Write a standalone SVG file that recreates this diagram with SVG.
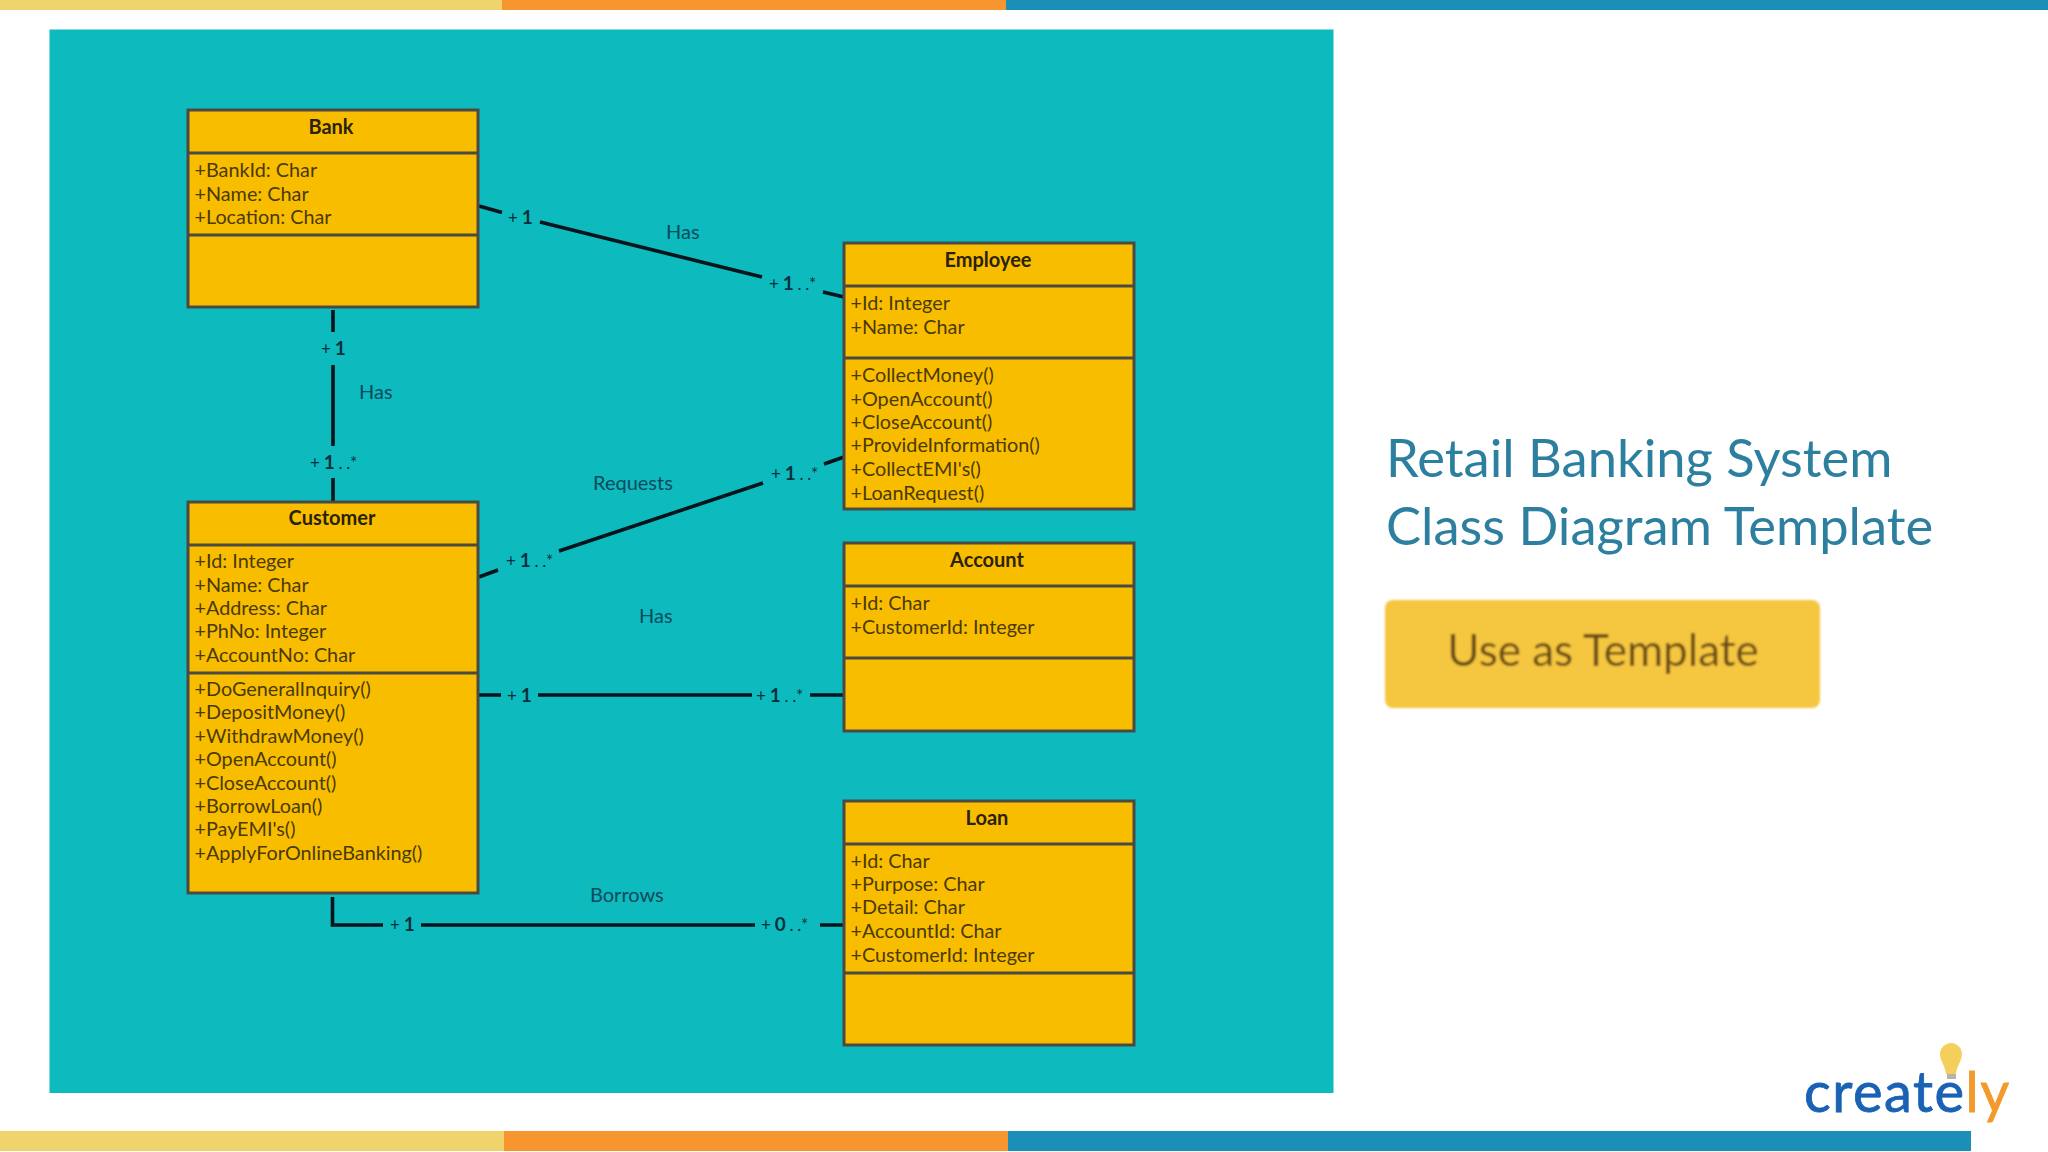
<svg xmlns="http://www.w3.org/2000/svg" width="2048" height="1152" viewBox="0 0 2048 1152">
<defs>
<style>
text{font-family:Lato,"Liberation Sans",sans-serif}
.box{fill:#f9bd00;stroke:#4a4a42;stroke-width:3}
.div{stroke:#4a4a42;stroke-width:3;fill:none}
.t{font-size:20px;font-weight:700;fill:#2a2205;text-anchor:middle}
.r{font-size:19.800px;fill:#4a3a08}
.c{fill:none;stroke:#04141c;stroke-width:3.600}
.m{font-size:17px;fill:#06303c;letter-spacing:-.3px}
.n{font-size:19px;font-weight:700}
.l{font-size:20px;fill:#0b4a5c}
</style>
<filter id="soft" x="-5%" y="-5%" width="110%" height="110%"><feGaussianBlur stdDeviation="0.8"/></filter>
<filter id="soft2" x="-5%" y="-5%" width="110%" height="110%"><feGaussianBlur stdDeviation="0.5"/></filter>
</defs>
<rect width="2048" height="1152" fill="#fff"/>
<g id="bars">
<rect x="0" y="0" width="502" height="10" fill="#efd36c"/>
<rect x="502" y="0" width="504" height="10" fill="#f7962e"/>
<rect x="1006" y="0" width="1042" height="10" fill="#1b8fb8"/>
<rect x="0" y="1131" width="504" height="20" fill="#efd36c"/>
<rect x="504" y="1131" width="504" height="20" fill="#f7962e"/>
<rect x="1008" y="1131" width="963" height="20" fill="#1b8fb8"/>
</g>
<rect id="panel" x="49.500" y="29.500" width="1284" height="1063.500" fill="#0dbabe"/>
<g id="connectors">
<path class="c" d="M479 206L502 212.500M540 222L762 277M823 292L844 297"/>
<path class="c" d="M333 310V332M333 365V446M333 478V501"/>
<path class="c" d="M479 577L498 570M559 551L763 483M824 464L844 457"/>
<path class="c" d="M479 695H501M538 695H752M810 695H844"/>
<path class="c" d="M332.500 897V925H383M421 925H755M820 925H844"/>
<text class="m" x="508" y="224">+ <tspan class="n">1</tspan></text>
<text class="m" x="321" y="355">+ <tspan class="n">1</tspan></text>
<text class="m" x="310" y="469">+ <tspan class="n">1</tspan> . .*</text>
<text class="m" x="769" y="290">+ <tspan class="n">1</tspan> . .*</text>
<text class="m" x="771" y="480">+ <tspan class="n">1</tspan> . .*</text>
<text class="m" x="506" y="567">+ <tspan class="n">1</tspan> . .*</text>
<text class="m" x="507" y="702">+ <tspan class="n">1</tspan></text>
<text class="m" x="756" y="702">+ <tspan class="n">1</tspan> . .*</text>
<text class="m" x="390" y="931">+ <tspan class="n">1</tspan></text>
<text class="m" x="761" y="931">+ <tspan class="n">0</tspan> . .*</text>
<text class="l" x="666" y="239">Has</text>
<text class="l" x="359" y="399">Has</text>
<text class="l" x="593" y="490">Requests</text>
<text class="l" x="639" y="623">Has</text>
<text class="l" x="590" y="902">Borrows</text>
</g>
<g id="bank">
<rect class="box" x="188" y="110" width="290" height="197"/>
<path class="div" d="M188 153H478M188 235H478"/>
<text class="t" x="331" y="134">Bank</text>
<text class="r" x="194.500" y="177">+BankId: Char</text>
<text class="r" x="194.500" y="201">+Name: Char</text>
<text class="r" x="194.500" y="224">+Location: Char</text>
</g>
<g id="employee">
<rect class="box" x="844" y="243" width="290" height="266"/>
<path class="div" d="M844 286H1134M844 358H1134"/>
<text class="t" x="988" y="267">Employee</text>
<text class="r" x="850.500" y="310">+Id: Integer</text>
<text class="r" x="850.500" y="334">+Name: Char</text>
<text class="r" x="850.500" y="382">+CollectMoney()</text>
<text class="r" x="850.500" y="406">+OpenAccount()</text>
<text class="r" x="850.500" y="429">+CloseAccount()</text>
<text class="r" x="850.500" y="452">+ProvideInformation()</text>
<text class="r" x="850.500" y="476">+CollectEMI's()</text>
<text class="r" x="850.500" y="500">+LoanRequest()</text>
</g>
<g id="customer">
<rect class="box" x="188" y="502" width="290" height="391"/>
<path class="div" d="M188 545H478M188 673H478"/>
<text class="t" x="332" y="525">Customer</text>
<text class="r" x="194.500" y="568">+Id: Integer</text>
<text class="r" x="194.500" y="592">+Name: Char</text>
<text class="r" x="194.500" y="615">+Address: Char</text>
<text class="r" x="194.500" y="638">+PhNo: Integer</text>
<text class="r" x="194.500" y="662">+AccountNo: Char</text>
<text class="r" x="194.500" y="696">+DoGeneralInquiry()</text>
<text class="r" x="194.500" y="719">+DepositMoney()</text>
<text class="r" x="194.500" y="743">+WithdrawMoney()</text>
<text class="r" x="194.500" y="766">+OpenAccount()</text>
<text class="r" x="194.500" y="790">+CloseAccount()</text>
<text class="r" x="194.500" y="813">+BorrowLoan()</text>
<text class="r" x="194.500" y="836">+PayEMI's()</text>
<text class="r" x="194.500" y="860">+ApplyForOnlineBanking()</text>
</g>
<g id="account">
<rect class="box" x="844" y="543" width="290" height="188"/>
<path class="div" d="M844 586H1134M844 658H1134"/>
<text class="t" x="987" y="567">Account</text>
<text class="r" x="850.500" y="610">+Id: Char</text>
<text class="r" x="850.500" y="634">+CustomerId: Integer</text>
</g>
<g id="loan">
<rect class="box" x="844" y="801" width="290" height="244"/>
<path class="div" d="M844 844H1134M844 973H1134"/>
<text class="t" x="987" y="825">Loan</text>
<text class="r" x="850.500" y="868">+Id: Char</text>
<text class="r" x="850.500" y="891">+Purpose: Char</text>
<text class="r" x="850.500" y="914">+Detail: Char</text>
<text class="r" x="850.500" y="938">+AccountId: Char</text>
<text class="r" x="850.500" y="962">+CustomerId: Integer</text>
</g>
<g id="title">
<text x="1386" y="477" fill="#2d7f9f" font-size="52.500">Retail Banking System</text>
<text x="1386" y="545" fill="#2d7f9f" font-size="52.500">Class Diagram Template</text>
</g>
<g id="button" filter="url(#soft)">
<rect x="1385" y="600" width="435" height="108" rx="8" fill="#f5c63f"/>
<text x="1603" y="666" font-size="44" fill="#6a4c18" text-anchor="middle">Use as Template</text>
</g>
<g id="logo" filter="url(#soft2)">
<path d="M1951 1043c-6 0-11 5-11 11 0 7 5 11 6 20h10c1-9 6-13 6-20 0-6-5-11-11-11z" fill="#f5cf5c"/>
<rect x="1947" y="1074" width="9" height="5" fill="#b5b5ae"/>
<text x="1804" y="1112" font-size="56" letter-spacing="1.500" stroke="#1a62b4" stroke-width="0.800" fill="#1a62b4">create<tspan fill="#f39a2b" stroke="#f39a2b">ly</tspan></text>
</g>
</svg>
